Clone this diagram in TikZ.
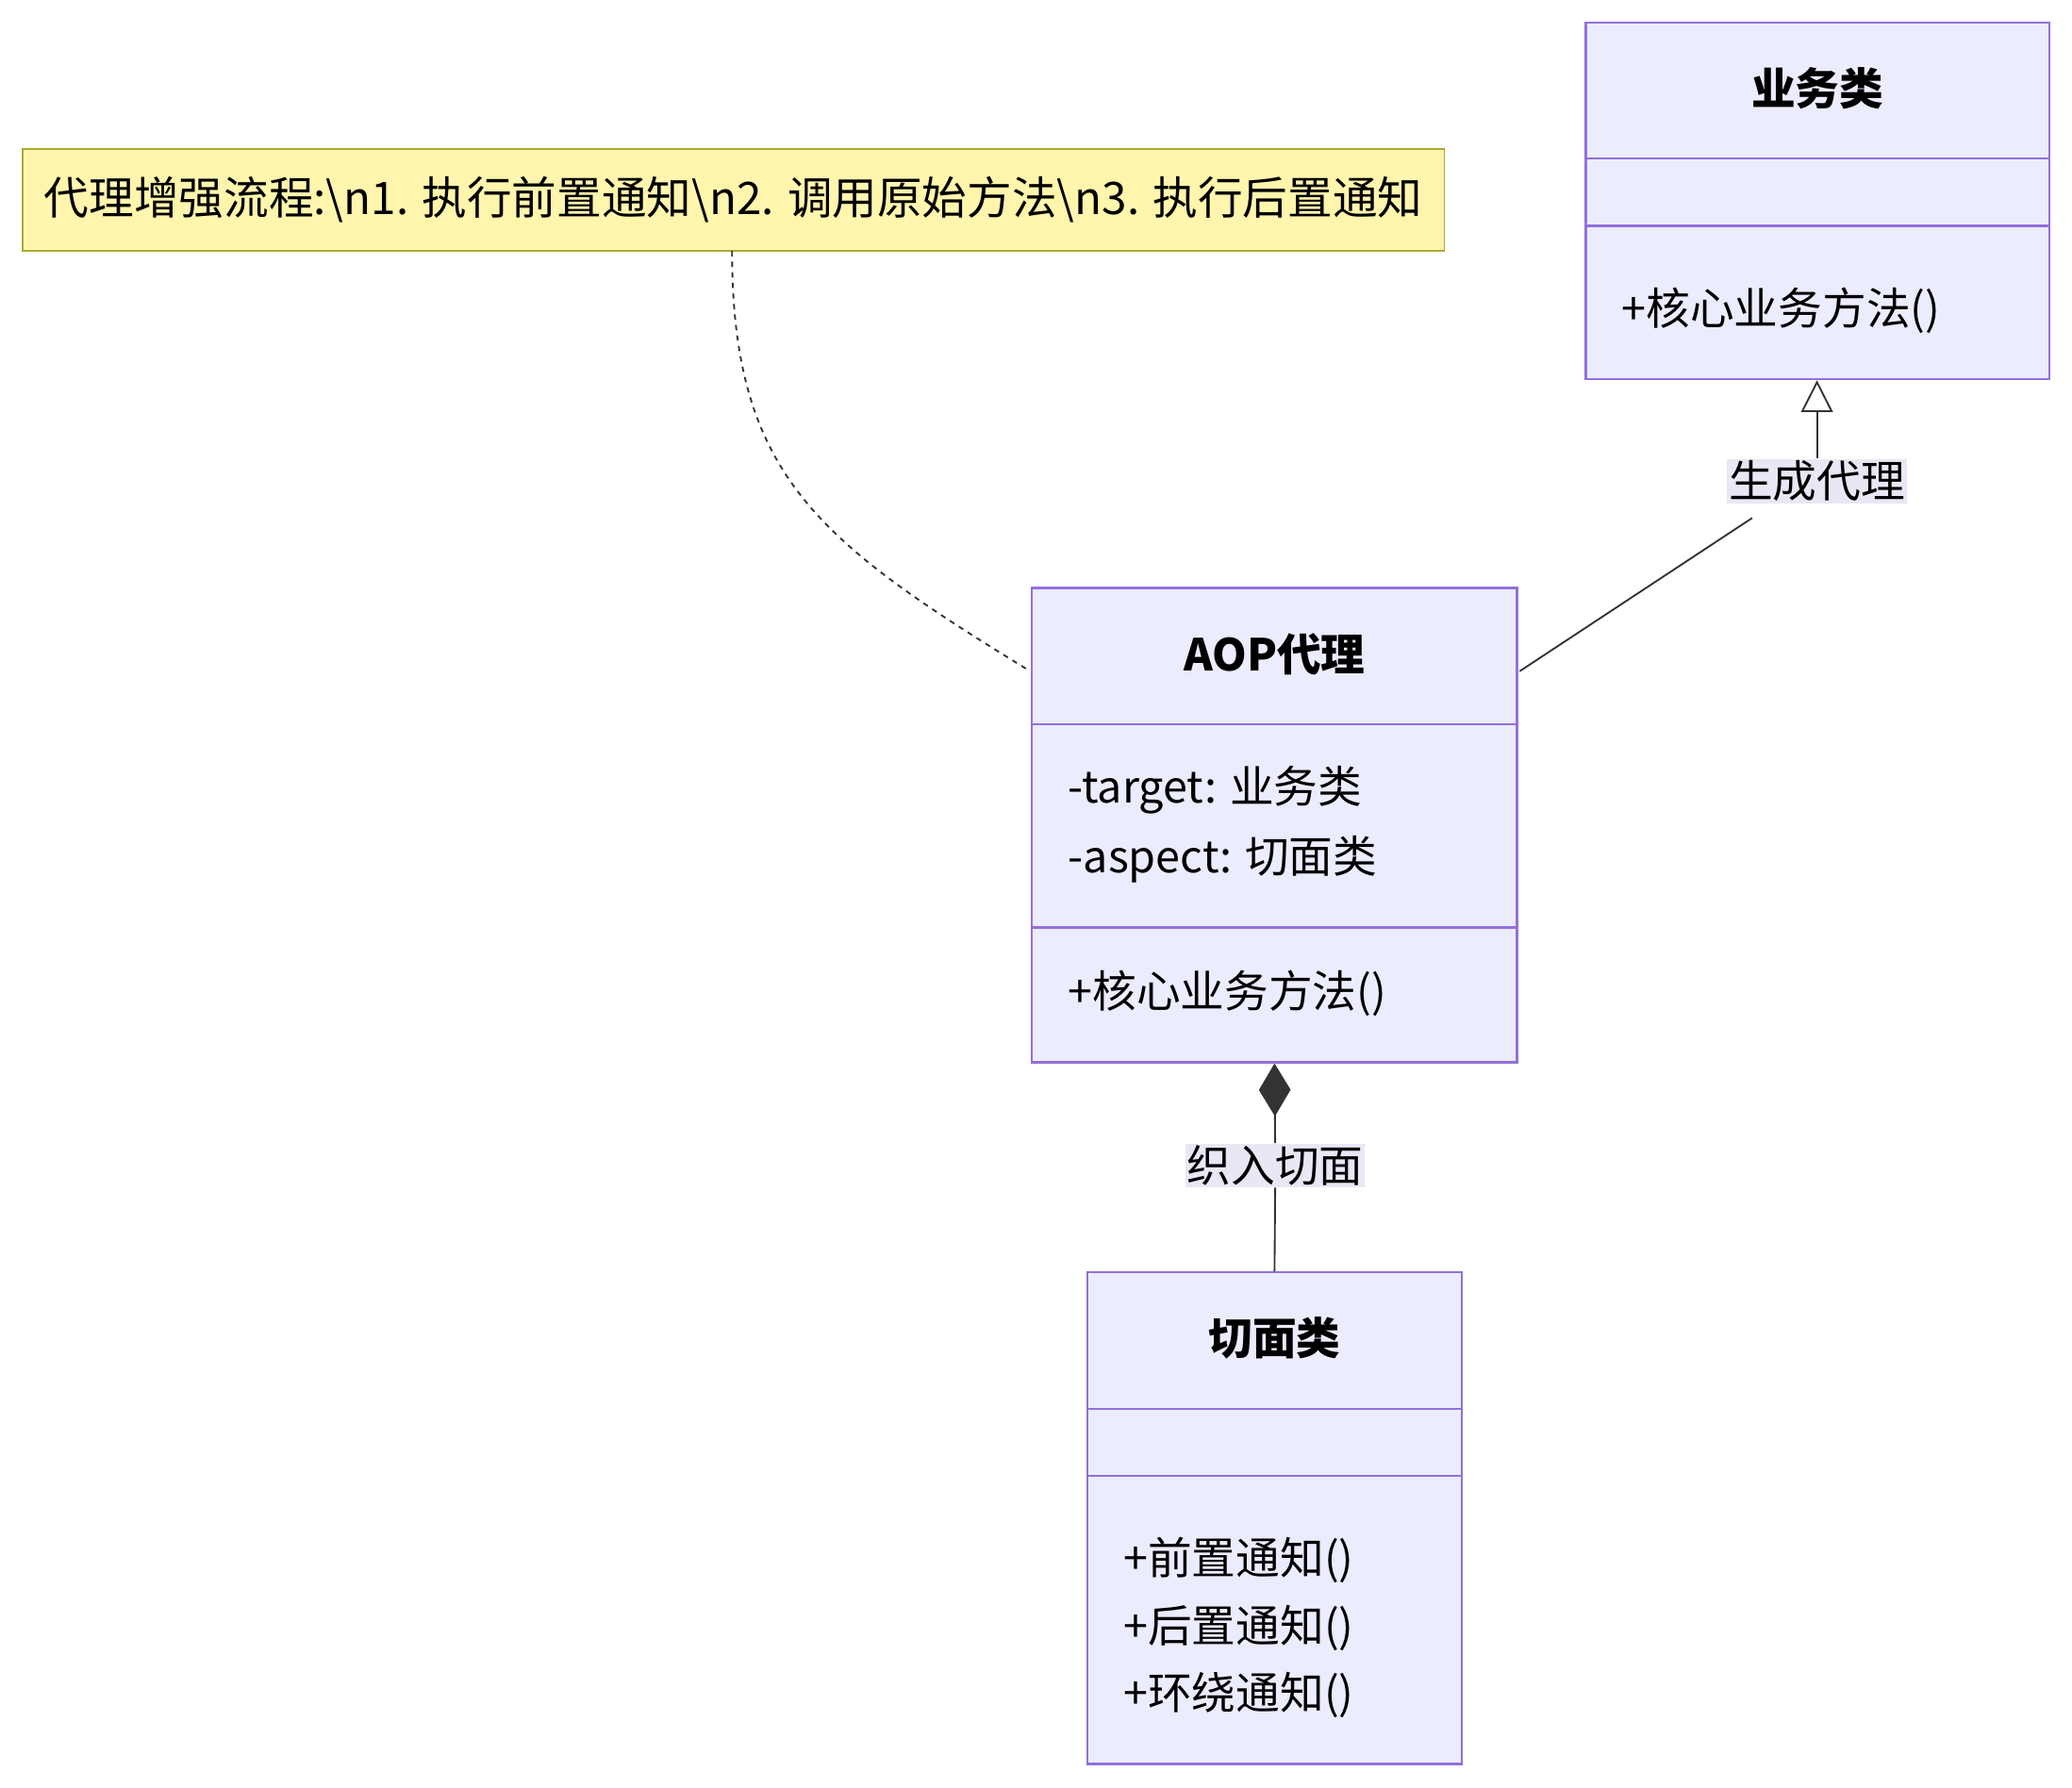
\documentclass[tikz,border=0pt]{standalone}
\usepackage{fontspec}
\setmainfont{Noto Sans CJK SC}
\usetikzlibrary{arrows.meta}
\definecolor{cfill}{HTML}{ECECFF}
\definecolor{cbord}{HTML}{9370DB}
\definecolor{nfill}{HTML}{FFF5AD}
\definecolor{nbord}{HTML}{AAAA33}
\definecolor{lfill}{HTML}{E8E8F5}
\definecolor{ink}{HTML}{333333}
\tikzset{
 cls/.style={draw=cbord,fill=cfill,line width=1.2pt,inner sep=0pt},
 div/.style={draw=cbord,line width=1.2pt},
 txt/.style={font=\fontsize{25}{30}\selectfont,inner sep=0pt,anchor=west,text=black},
 ttl/.style={font=\fontsize{25}{30}\selectfont\bfseries,inner sep=0pt,text=black},
 lbl/.style={font=\fontsize{25}{30}\selectfont,fill=lfill,inner sep=1pt,text=black},
 edge/.style={draw=ink,line width=1pt},
}
\begin{document}
\begin{tikzpicture}[x=0.75pt,y=-0.75pt]
\useasboundingbox[fill=white] (0,0) rectangle (1568,1353);
% business class
\node[cls,minimum width=263.25pt,minimum height=202.5pt] (biz) at (1375.5,152) {};
\draw[div] (1200,120) -- (1551,120) (1200,171) -- (1551,171);
\node[ttl] (biztitle) at (1375.5,67) {业务类};
\node[txt] (bizm) at (1227,235) {+核心业务方法()};
% note
\node[draw=nbord,fill=nfill,line width=1pt,minimum width=807pt,minimum height=57.75pt,inner sep=0pt] (note) at (555,151.5) {};
\node[font=\fontsize{25.5}{30}\selectfont,inner sep=0pt] (notet) at (555,151) {代理增强流程:\textbackslash n1. 执行前置通知\textbackslash n2. 调用原始方法\textbackslash n3. 执行后置通知};
% AOP proxy
\node[cls,minimum width=275.25pt,minimum height=269.25pt] (aop) at (964.5,624.5) {};
\draw[div] (781,548) -- (1148,548) (781,702) -- (1148,702);
\node[ttl] (aopt) at (964.5,495) {AOP代理};
\node[txt] (f1) at (808,598) {-target: 业务类};
\node[txt] (f2) at (808,650) {-aspect: 切面类};
\node[txt] (aopm) at (808,752) {+核心业务方法()};
% aspect
\node[cls,minimum width=212.25pt,minimum height=279pt] (asp) at (964.5,1149) {};
\draw[div] (823,1066) -- (1106,1066) (823,1117) -- (1106,1117);
\node[ttl] (aspt) at (964.5,1013) {切面类};
\node[txt] (m1) at (850,1181) {+前置通知()};
\node[txt] (m2) at (850,1232) {+后置通知()};
\node[txt] (m3) at (850,1283) {+环绕通知()};
% edges
\node[lbl] (l1) at (1375,364) {生成代理};
\coordinate (a1) at (1150,508);
\coordinate (a2) at (1326,392);
\draw[edge] (a1) -- (a2);
\draw[edge,-{Triangle[open,length=18pt,width=18pt,fill=white]}] (l1.north) -- (biz.south -| l1);
\node[lbl] (l2) at (965,882) {织入切面};
\draw[edge,{Diamond[length=30pt,width=18pt,fill=ink]}-] (aop.south) -- (l2.north);
\draw[edge] (l2.south) -- (asp.north);
\coordinate (nb) at (554,190);
\coordinate (ae) at (778,507);
\draw[edge,dash pattern=on 3pt off 3pt] (nb) .. controls (554,360) and (620,410) .. (ae);
\end{tikzpicture}
\end{document}
